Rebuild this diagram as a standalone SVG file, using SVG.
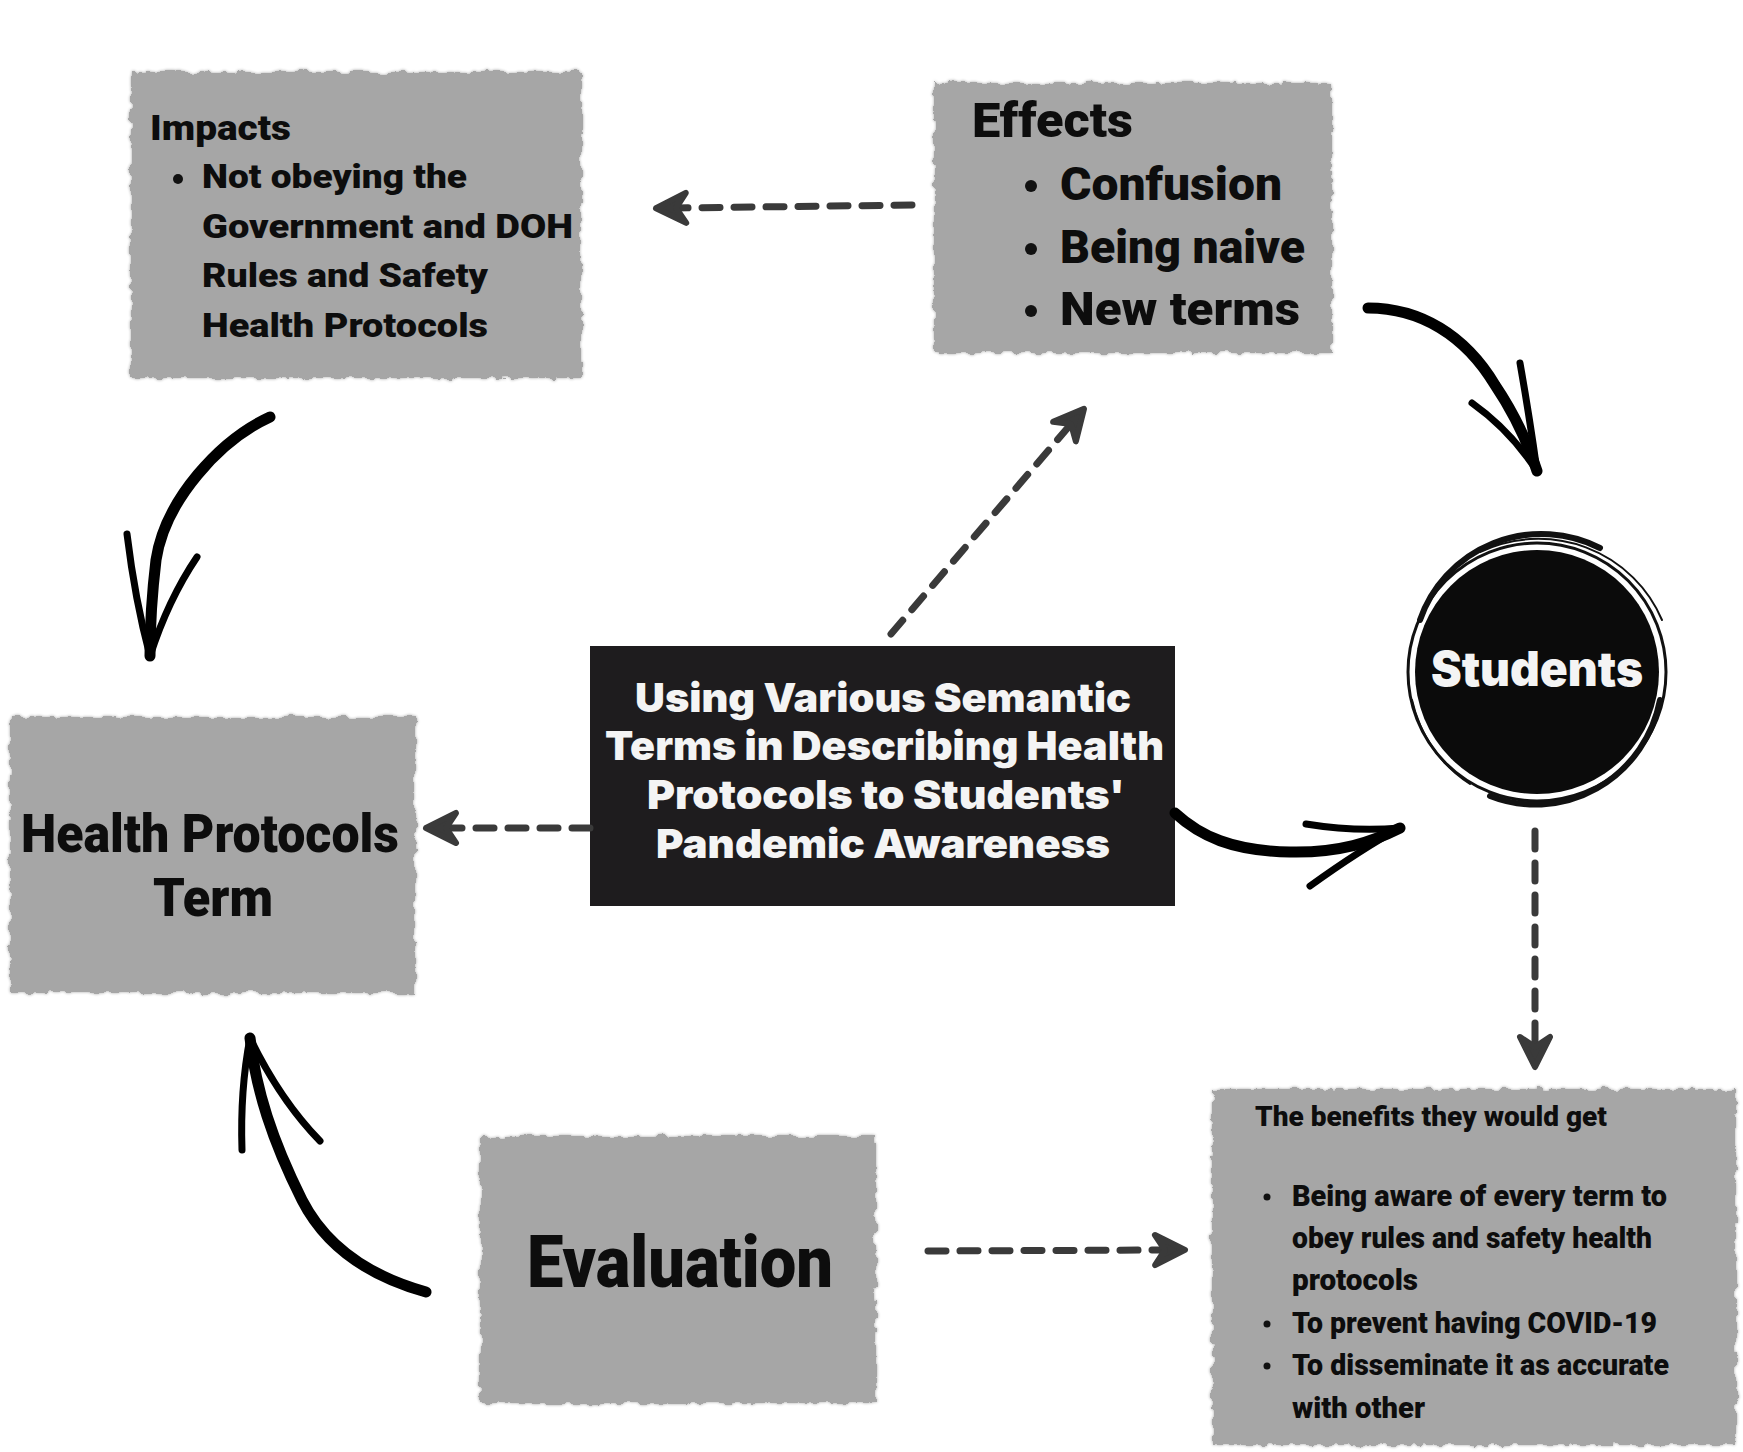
<svg xmlns="http://www.w3.org/2000/svg" width="1743" height="1452" viewBox="0 0 1743 1452">
  <defs>
    <filter id="rough" x="-5%" y="-5%" width="110%" height="110%">
      <feTurbulence type="fractalNoise" baseFrequency="0.09" numOctaves="3" seed="3" result="noise"/>
      <feDisplacementMap in="SourceGraphic" in2="noise" scale="9" xChannelSelector="R" yChannelSelector="G" result="disp"/>
      <feDropShadow dx="0" dy="0" stdDeviation="1.5" flood-color="#000" flood-opacity="0.35"/>
    </filter>
    <marker id="chev" viewBox="-40 -25 50 50" refX="-20" refY="0" markerWidth="50" markerHeight="50" orient="auto" markerUnits="userSpaceOnUse">
      <path d="M -30,-15 L 0,0 L -30,15 L -20,0 Z" fill="#3a3a3a" stroke="#3a3a3a" stroke-width="6" stroke-linejoin="round"/>
    </marker>
  </defs>
  <style>
    .box { fill: #a6a6a6; filter: url(#rough); }
    .dark { fill: #1e1c1e; }
    .t { font-family: Roboto, "Liberation Sans", sans-serif; font-weight: 900; fill: #0d0d0d; }
    .w { font-family: Inter, "Liberation Sans", sans-serif; font-weight: 900; fill: #f4f4f4; }
    .dash { fill: none; stroke: #3a3a3a; stroke-width: 7; stroke-linecap: round; stroke-dasharray: 18 14; marker-end: url(#chev); }
    .brush { fill: none; stroke: #000; stroke-width: 11; stroke-linecap: round; stroke-linejoin: round; }
    .barb { fill: none; stroke: #000; stroke-width: 7; stroke-linecap: round; }
    .bul { fill: #111; }
  </style>
  <rect width="1743" height="1452" fill="#ffffff"/>

  <g id="impacts">
    <rect class="box" x="131" y="72" width="450" height="306"/>
    <text class="t" x="150" y="140" font-size="35" textLength="141" lengthAdjust="spacingAndGlyphs">Impacts</text>
    <circle class="bul" cx="178" cy="179" r="5"/>
    <text class="t" x="202" y="188" font-size="33" textLength="265" lengthAdjust="spacingAndGlyphs">Not obeying the</text>
    <text class="t" x="202" y="238" font-size="33" textLength="371" lengthAdjust="spacingAndGlyphs">Government and DOH</text>
    <text class="t" x="202" y="287" font-size="33" textLength="286" lengthAdjust="spacingAndGlyphs">Rules and Safety</text>
    <text class="t" x="202" y="337" font-size="33" textLength="286" lengthAdjust="spacingAndGlyphs">Health Protocols</text>
  </g>

  <g id="effects">
    <rect class="box" x="934" y="83" width="398" height="270"/>
    <text class="t" x="972" y="137" font-size="48" textLength="161" lengthAdjust="spacingAndGlyphs">Effects</text>
    <circle class="bul" cx="1031" cy="186" r="6"/>
    <circle class="bul" cx="1031" cy="249" r="6"/>
    <circle class="bul" cx="1031" cy="311" r="6"/>
    <text class="t" x="1060" y="200" font-size="47" textLength="222" lengthAdjust="spacingAndGlyphs">Confusion</text>
    <text class="t" x="1060" y="263" font-size="47" textLength="245" lengthAdjust="spacingAndGlyphs">Being naive</text>
    <text class="t" x="1060" y="325" font-size="47" textLength="240" lengthAdjust="spacingAndGlyphs">New terms</text>
  </g>

  <g id="center">
    <rect class="dark" x="590" y="646" width="585" height="260"/>
    <text class="w" x="635" y="712" font-size="40" textLength="496" lengthAdjust="spacingAndGlyphs">Using Various Semantic</text>
    <text class="w" x="605" y="760" font-size="40" textLength="559" lengthAdjust="spacingAndGlyphs">Terms in Describing Health</text>
    <text class="w" x="647" y="809" font-size="40" textLength="478" lengthAdjust="spacingAndGlyphs">Protocols to Students'</text>
    <text class="w" x="656" y="858" font-size="40" textLength="454" lengthAdjust="spacingAndGlyphs">Pandemic Awareness</text>
  </g>

  <g id="students">
    <circle cx="1537" cy="672" r="122" fill="#0b0b0b"/>
    <circle cx="1537" cy="672" r="129" fill="none" stroke="#111" stroke-width="3"/>
    <path d="M 1420,620 A 128 126 0 0 1 1600,548" fill="none" stroke="#111" stroke-width="6" stroke-linecap="round"/>
    <path d="M 1660,700 A 127 130 0 0 1 1490,796" fill="none" stroke="#111" stroke-width="6" stroke-linecap="round"/>
    <path d="M 1480,552 A 134 132 0 0 1 1662,620" fill="none" stroke="#111" stroke-width="2" stroke-linecap="round"/>
    <path d="M 1412,700 A 132 134 0 0 0 1470,784" fill="none" stroke="#111" stroke-width="2" stroke-linecap="round"/>
    <text class="w" x="1431" y="686" font-size="48" textLength="212" lengthAdjust="spacingAndGlyphs">Students</text>
  </g>

  <g id="health">
    <rect class="box" x="10" y="717" width="405" height="276"/>
    <text class="t" x="21" y="852" font-size="54" textLength="378" lengthAdjust="spacingAndGlyphs">Health Protocols</text>
    <text class="t" x="153" y="916" font-size="54" textLength="120" lengthAdjust="spacingAndGlyphs">Term</text>
  </g>

  <g id="evaluation">
    <rect class="box" x="480" y="1136" width="396" height="267"/>
    <text class="t" x="527" y="1287" font-size="72" textLength="306" lengthAdjust="spacingAndGlyphs">Evaluation</text>
  </g>

  <g id="benefits">
    <rect class="box" x="1212" y="1089" width="524" height="356"/>
    <text class="t" x="1255" y="1126" font-size="27" textLength="352" lengthAdjust="spacingAndGlyphs">The benefits they would get</text>
    <circle class="bul" cx="1267" cy="1197" r="3.5"/>
    <circle class="bul" cx="1267" cy="1324" r="3.5"/>
    <circle class="bul" cx="1267" cy="1366" r="3.5"/>
    <text class="t" x="1292" y="1206" font-size="30" textLength="375" lengthAdjust="spacingAndGlyphs">Being aware of every term to</text>
    <text class="t" x="1292" y="1248" font-size="30" textLength="360" lengthAdjust="spacingAndGlyphs">obey rules and safety health</text>
    <text class="t" x="1292" y="1290" font-size="30" textLength="126" lengthAdjust="spacingAndGlyphs">protocols</text>
    <text class="t" x="1292" y="1333" font-size="30" textLength="365" lengthAdjust="spacingAndGlyphs">To prevent having COVID-19</text>
    <text class="t" x="1292" y="1375" font-size="30" textLength="377" lengthAdjust="spacingAndGlyphs">To disseminate it as accurate</text>
    <text class="t" x="1292" y="1418" font-size="30" textLength="133" lengthAdjust="spacingAndGlyphs">with other</text>
  </g>

  <g id="connectors">
    <path class="dash" d="M 912,205 L 676,208"/>
    <path class="dash" d="M 891,634 L 1071,424"/>
    <path class="dash" d="M 590,828 L 446,828"/>
    <path class="dash" d="M 928,1251 L 1165,1250"/>
    <path class="dash" d="M 1535,831 L 1535,1047"/>

    <path class="brush" d="M 270,417 C 220,440 165,500 156,560 Q 150,610 150,656"/>
    <path class="barb" d="M 127,534 Q 135,600 150,656"/>
    <path class="barb" d="M 197,557 Q 168,600 150,656"/>

    <path class="brush" d="M 1368,308 C 1420,308 1465,335 1495,385 Q 1522,425 1537,471"/>
    <path class="barb" d="M 1472,403 Q 1510,430 1537,471"/>
    <path class="barb" d="M 1520,363 Q 1530,420 1537,471"/>

    <path class="brush" d="M 1175,813 C 1200,836 1232,851 1290,852 C 1340,853 1372,842 1400,828"/>
    <path class="barb" d="M 1306,824 Q 1355,832 1400,828"/>
    <path class="barb" d="M 1310,886 Q 1360,850 1400,828"/>

    <path class="brush" d="M 426,1292 C 365,1275 325,1245 302,1200 C 272,1140 256,1090 250,1038"/>
    <path class="barb" d="M 242,1150 Q 240,1090 250,1038"/>
    <path class="barb" d="M 320,1141 Q 280,1100 250,1038"/>
  </g>
</svg>
